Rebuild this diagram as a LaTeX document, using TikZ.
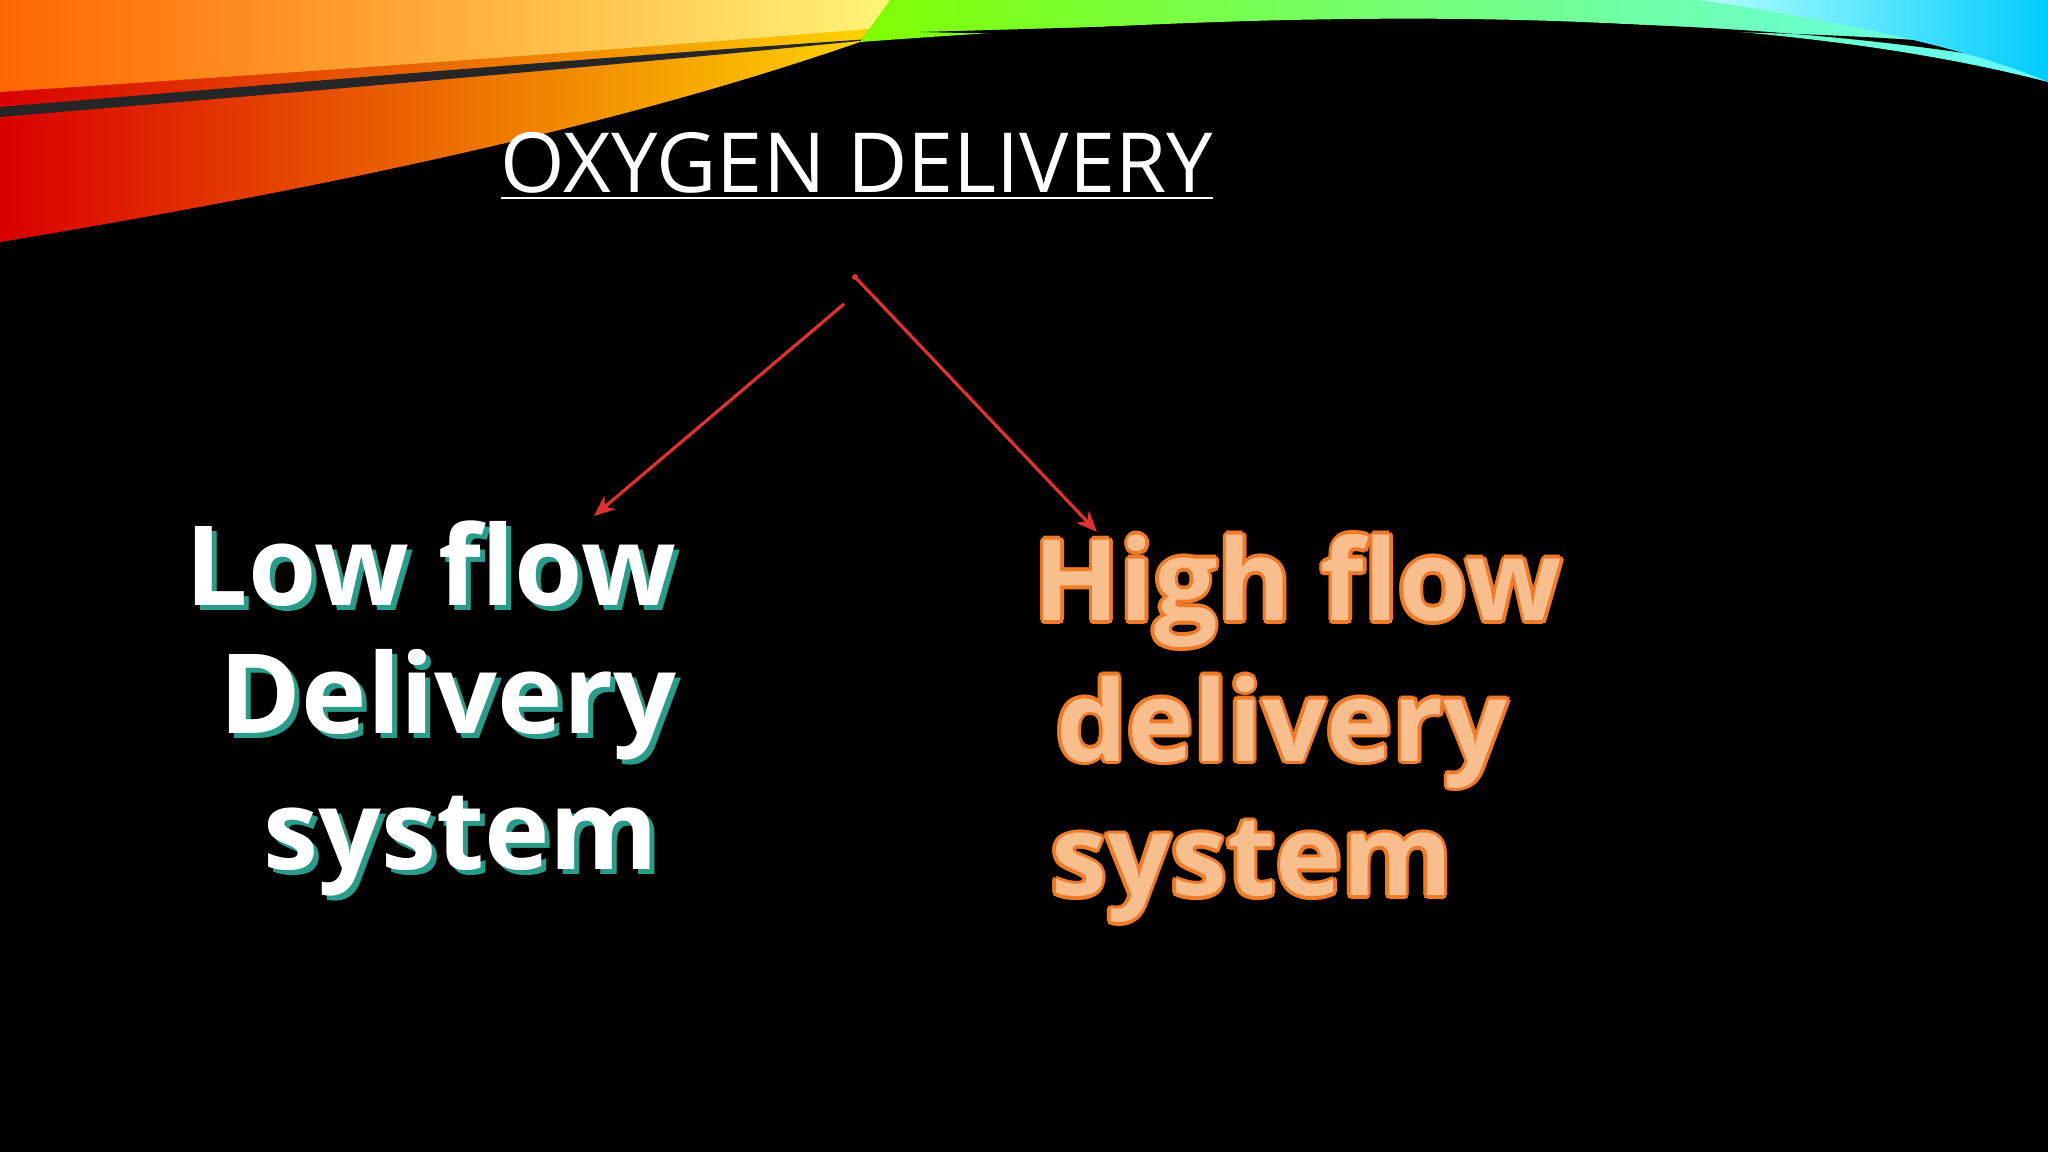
\documentclass[tikz,border=0pt]{standalone}
\usepackage{fontspec}
\setmainfont{Open Sans}
\usetikzlibrary{arrows.meta}
\definecolor{teal1}{HTML}{2A9D8A}
\definecolor{orfill}{HTML}{F9BE8E}
\definecolor{orline}{HTML}{F07A28}
\definecolor{arrowred}{HTML}{E03030}
\tikzset{
  lowbig/.style={font=\fontsize{31.5}{38}\selectfont\bfseries, inner sep=0pt},
  highbig/.style={font=\fontsize{32}{38}\selectfont\bfseries, inner sep=0pt},
  conn/.style={draw=arrowred, line width=0.9pt, -{Stealth[length=6pt,width=5pt]}},
}
\newcommand{\lowtxt}[3]{%
  \node[lowbig, text=teal1] at ([shift={(0.05,-0.05)}]#1) {#3};
  \node[lowbig, text=white] (#2) at (#1) {#3};}
\newcommand{\hightxt}[3]{%
  \foreach \dx/\dy in {0.035/0,-0.035/0,0/0.035,0/-0.035,0.025/0.025,-0.025/0.025,0.025/-0.025,-0.025/-0.025}{
    \node[highbig, text=orline] at ([shift={(\dx,\dy)}]#1) {#3};}
  \node[highbig, text=orfill] (#2) at (#1) {#3};}
\begin{document}
\begin{tikzpicture}
\useasboundingbox (0,0) rectangle (20.48,11.52);
\fill[black] (0,0) rectangle (20.48,11.52);
% swoosh left warm
\shade[left color=red!85!black, right color=yellow!70!orange]
  (0,9.1) .. controls (3,9.6) and (6,10.2) .. (8.6,11.1) -- (8.9,11.52) -- (0,11.52) -- cycle;
\shade[left color=orange!80!red, right color=yellow!50!white]
  (0,10.6) .. controls (3,10.8) and (6,11.0) .. (9.5,11.3) -- (9.5,11.52) -- (0,11.52) -- cycle;
\fill[black!85] (0,10.45) .. controls (3,10.7) and (6,10.95) .. (9.0,11.15) .. controls (6,10.85) and (3,10.6) .. (0,10.35) -- cycle;
% swoosh right cool
\shade[left color=green!50!yellow, right color=cyan!60!white]
  (8.6,11.1) .. controls (12,11.35) and (17,11.6) .. (20.48,10.7) -- (20.48,11.52) -- (8.9,11.52) -- cycle;
\fill[black] (9.2,11.2) .. controls (13,11.3) and (17,11.5) .. (20.48,10.85) -- (20.48,11.0) .. controls (17,11.4) and (13,11.1) .. (9.2,11.2) -- cycle;
\shade[left color=cyan!30!white, right color=cyan!80!blue]
  (17,11.52) .. controls (18.5,11.3) and (19.8,11.0) .. (20.48,10.7) -- (20.48,11.52) -- cycle;
% title
\node[font=\fontsize{23.6}{28}\selectfont, text=white, inner sep=0pt] (title) at (8.57,9.86) {\underline{OXYGEN DELIVERY}};
% arrow origins
\coordinate (o1) at (8.44,8.48);
\coordinate (o2) at (8.55,8.75);
\coordinate (t1) at (5.94,6.36);
\coordinate (t2) at (10.97,6.2);
\fill[arrowred] (8.55,8.75) circle (0.03);
\draw[conn] (o1) -- (t1);
\draw[conn] (o2) -- (t2);
% texts
\lowtxt{4.31,5.88}{l1}{Low flow}
\lowtxt{4.48,4.47}{l2}{Delivery}
\lowtxt{4.61,3.06}{l3}{system}
\hightxt{12.98,5.61}{h1}{High flow}
\hightxt{12.82,4.20}{h2}{delivery}
\hightxt{12.52,2.80}{h3}{system}
\end{tikzpicture}
\end{document}
